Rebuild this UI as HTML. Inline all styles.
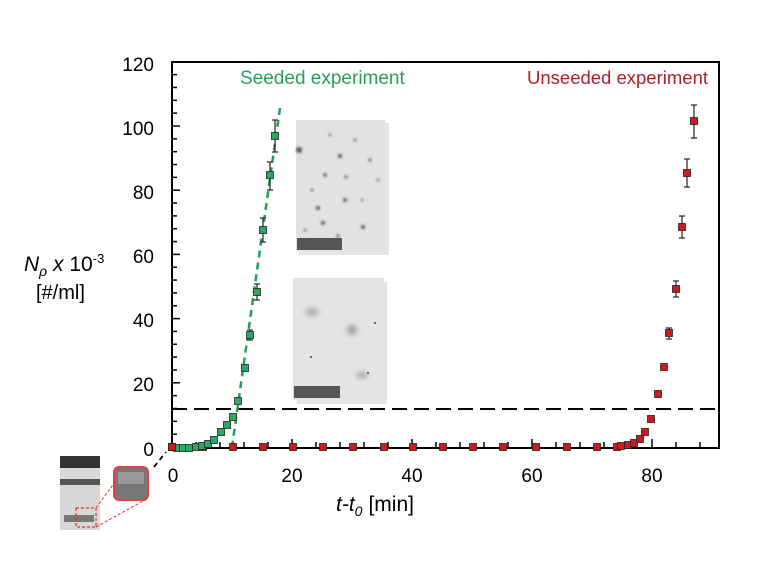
<!DOCTYPE html>
<html><head><meta charset="utf-8"><style>
html,body{margin:0;padding:0;background:#fff;width:768px;height:576px;overflow:hidden}
text{font-family:"Liberation Sans",Arial,sans-serif}
</style></head><body>
<svg id="s" width="768" height="576" xmlns="http://www.w3.org/2000/svg">
<defs>
<filter id="bl"><feGaussianBlur stdDeviation="1.2"/></filter>
<filter id="bl2"><feGaussianBlur stdDeviation="3"/></filter>
</defs>
<rect x="297" y="121" width="90" height="132" fill="#ccc" opacity="0.5" transform="translate(2,2)"/>
<rect x="296" y="120" width="89" height="131" fill="#e2e2e2"/>
<g fill="#555" filter="url(#bl)">
<circle cx="299" cy="150" r="3"/><circle cx="340" cy="156" r="2"/><circle cx="325" cy="175" r="1.8"/><circle cx="346" cy="177" r="1.5"/><circle cx="345" cy="200" r="2"/><circle cx="318" cy="208" r="2"/><circle cx="323" cy="223" r="2"/><circle cx="363" cy="227" r="2"/><circle cx="370" cy="160" r="1.5"/><circle cx="338" cy="236" r="1.5"/><circle cx="312" cy="190" r="1.3"/><circle cx="355" cy="140" r="1.3"/><circle cx="378" cy="180" r="1.3"/><circle cx="305" cy="230" r="1.3"/><circle cx="330" cy="135" r="1.2"/><circle cx="362" cy="200" r="1.2"/>
</g>
<rect x="297" y="238" width="45" height="12" fill="#555"/>
<rect x="295" y="280" width="90" height="122" fill="#ccc" opacity="0.5" transform="translate(2,2)"/>
<rect x="293" y="278" width="91" height="122" fill="#e4e4e4"/>
<g fill="#999" filter="url(#bl2)"><ellipse cx="312" cy="312" rx="7" ry="3"/><ellipse cx="352" cy="330" rx="5" ry="5"/><ellipse cx="362" cy="375" rx="5" ry="3"/></g>
<g fill="#444"><circle cx="375" cy="323" r="1"/><circle cx="311" cy="357" r="1"/><circle cx="368" cy="373" r="1"/></g>
<rect x="294" y="386" width="46" height="12" fill="#555"/>
<rect x="60" y="456" width="40" height="74" fill="#d8d8d8"/>
<rect x="60" y="456" width="40" height="12" fill="#333"/>
<rect x="60" y="479" width="40" height="6" fill="#555"/>
<rect x="64" y="515" width="30" height="7" fill="#777"/>
<rect x="76" y="508" width="20" height="19" fill="none" stroke="#d33" stroke-width="1.2" stroke-dasharray="3,2"/>
<rect x="114" y="467" width="34" height="33" rx="5" fill="#777" stroke="#d44" stroke-width="2"/>
<rect x="118" y="472" width="26" height="12" fill="#999"/>
<line x1="96" y1="508" x2="115" y2="482" stroke="#d33" stroke-dasharray="3,2"/>
<line x1="96" y1="527" x2="145" y2="500" stroke="#d33" stroke-dasharray="3,2"/>
<line x1="154" y1="467" x2="166" y2="452" stroke="#000" stroke-width="1.8" stroke-dasharray="5,4"/>
<rect x="172" y="62" width="547" height="386" fill="none" stroke="#000" stroke-width="2"/>
<g id="ticks" stroke="#000" stroke-width="1.5"></g>
<line x1="172" y1="409" x2="719" y2="409" stroke="#000" stroke-width="2" stroke-dasharray="15,7"/>
<line x1="280" y1="108" x2="232" y2="447" stroke="#22a055" stroke-width="2.5" stroke-dasharray="7,5"/>
<g id="pts"></g>
<g font-size="19" text-anchor="end" fill="#000">
<text x="154" y="71">120</text><text x="154" y="135">100</text><text x="154" y="199">80</text><text x="154" y="263">60</text><text x="154" y="327">40</text><text x="154" y="391">20</text><text x="154" y="456">0</text>
</g>
<g font-size="19" text-anchor="middle" fill="#000">
<text x="173" y="482">0</text><text x="292" y="482">20</text><text x="412" y="482">40</text><text x="532" y="482">60</text><text x="652" y="482">80</text>
</g>
<text x="336" y="511" font-size="21"><tspan font-style="italic">t-t</tspan><tspan font-style="italic" font-size="14" dy="5">0</tspan><tspan dy="-5" dx="6">[min]</tspan></text>
<text x="24" y="271" font-size="21"><tspan font-style="italic">N</tspan><tspan font-style="italic" font-size="14" dy="5">ρ</tspan><tspan dy="-5" font-style="italic"> x </tspan><tspan>10</tspan><tspan font-size="13" dy="-8">-3</tspan></text>
<text x="36" y="299" font-size="20">[#/ml]</text>
<text x="240" y="84" font-size="19" fill="#2a9d5c">Seeded experiment</text>
<text x="527" y="84" font-size="18.5" fill="#b01e28">Unseeded experiment</text>
</svg>
<script>
var ns="http://www.w3.org/2000/svg";
function el(p,t,a){var e=document.createElementNS(ns,t);for(var k in a)e.setAttribute(k,a[k]);p.appendChild(e);return e;}
var T=document.getElementById('ticks');
for(var v=0;v<=120;v+=4){var y=447-v*3.21;el(T,'line',{x1:172,x2:v%20==0?180:177,y1:y,y2:y});}
for(var m=4;m<=90;m+=4){var x=172+m*6;el(T,'line',{x1:x,x2:x,y1:447,y2:m%20==0?439:442});}
var P=document.getElementById('pts');
function err(x,a,b){el(P,'line',{x1:x,x2:x,y1:a,y2:b,stroke:'#333','stroke-width':1.3});el(P,'line',{x1:x-3,x2:x+3,y1:a,y2:a,stroke:'#333','stroke-width':1.3});el(P,'line',{x1:x-3,x2:x+3,y1:b,y2:b,stroke:'#333','stroke-width':1.3});}
function sq(x,y,c){el(P,'rect',{x:x-3.5,y:y-3.5,width:7,height:7,fill:c,stroke:'#222','stroke-width':0.8});}
var R='#cc1a22',G='#2aa865';
var red=[[172,447],[203,447],[233,447],[263,447],[293,447],[323,447],[353,447],[384,447],[413,447],[443,447],[473,447],[503,447],[536,447],[567,447],[597,447],[617,447],[621,446],[628,445],[634,443],[640,439],[645,432],[651,419],[658,394],[664,367],[669,333],[676,289],[682,227],[687,173],[694,121]];
err(669,328,339);err(676,281,297);err(682,216,238);err(687,159,187);err(694,105,138);
red.forEach(function(p){sq(p[0],p[1],R);});
var gr=[[177,448],[183,448],[189,448],[196,447],[202,446],[208,444],[214,440],[221,432],[227,425],[233,417],[238,401],[245,368],[250,335],[257,292],[263,230],[270,175],[275,136]];
err(250,330,340);err(257,284,300);err(263,218,242);err(270,162,190);err(275,120,152);
gr.forEach(function(p){sq(p[0],p[1],G);});
sq(172,447,R);
</script>
</body></html>
